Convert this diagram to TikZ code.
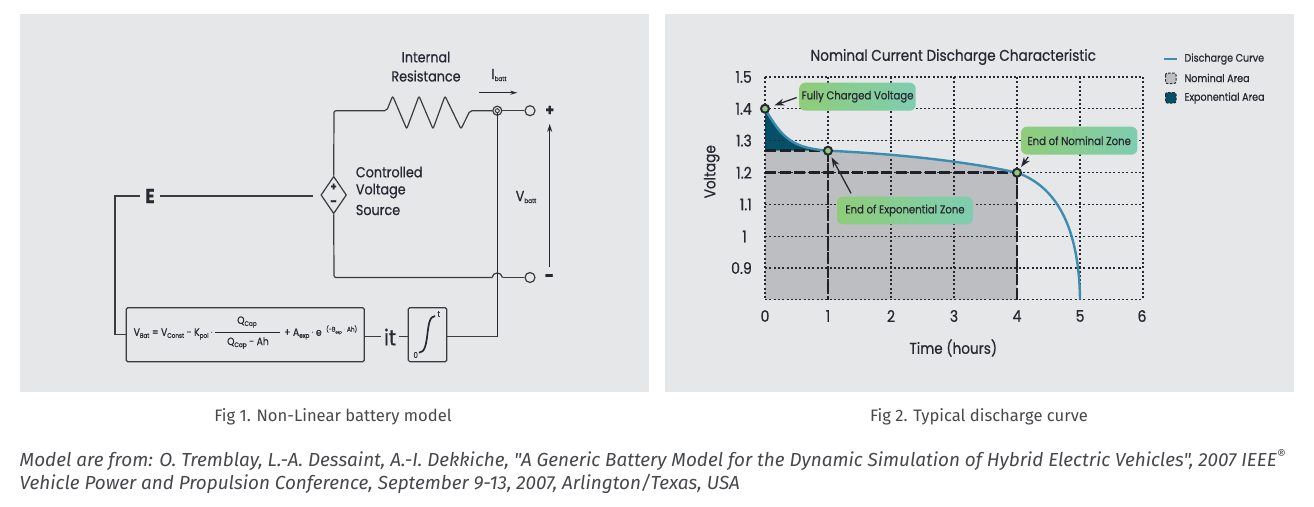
\documentclass[tikz,border=0pt]{standalone}
\usepackage{fontspec}
\usepackage{graphicx}
\setmainfont{Poppins}[FakeStretch=0.88,FakeBold=0.6]
\newfontfamily\capfont{Fira Sans}
\usetikzlibrary{shapes.geometric,arrows.meta}
\definecolor{panel}{RGB}{230,231,233}
\definecolor{ink}{RGB}{40,40,50}
\definecolor{wirec}{RGB}{60,60,62}
\definecolor{captionc}{RGB}{70,72,76}
\definecolor{nomarea}{RGB}{189,190,193}
\definecolor{exparea}{RGB}{4,80,104}
\definecolor{curvec}{RGB}{60,141,176}
\definecolor{lblleft}{RGB}{143,205,122}
\definecolor{lblright}{RGB}{126,205,176}
\definecolor{ptfill}{RGB}{140,205,125}
\newcommand{\fs}[1]{\fontsize{#1}{#1}\selectfont}
\newcommand{\lowidx}[1]{\raisebox{-2pt}{\fs{6.5}#1}}
\tikzset{
  wire/.style={line width=1.2pt,color=wirec},
  gridline/.style={line width=1.1pt,color=ink,dash pattern=on 2pt off 2.3pt},
  zoneline/.style={line width=2.6pt,color=ink!80!black,dash pattern=on 11pt off 3.5pt},
  callout/.style={rounded corners=6pt,left color=lblleft,right color=lblright,
    text=ink,inner sep=0pt,font=\fs{11.5}},
  ptmark/.style={circle,draw=ink,line width=2pt,fill=ptfill,minimum size=8pt,inner sep=0pt},
  terminal/.style={circle,draw=wirec,line width=1.2pt,fill=panel,minimum size=10pt,inner sep=0pt},
  pointer/.style={-{Stealth[length=10pt,width=7pt]},line width=1.3pt,color=ink},
  txt/.style={text=ink,inner sep=0pt},
  tlabel/.style={txt,font=\fs{14.5}},
  tick/.style={txt,font=\fs{16}},
  legendtxt/.style={txt,anchor=west,font=\fs{10.9}},
  capt/.style={text=captionc,inner sep=0pt,font=\capfont\fs{16.6}},
  bib/.style={text=captionc,inner sep=0pt,anchor=west,font=\capfont\itshape\fs{18.9}}
}
\begin{document}
\begin{tikzpicture}[x=1pt,y=-1pt]
\newcommand{\vgrid}[1]{\draw [gridline] (#1,77)--(#1,299.5);}
\newcommand{\hgrid}[1]{\draw [gridline] (765,#1)--(1143,#1);}
\fill [white] (0,0) rectangle (1314,506);
\useasboundingbox (0,0) rectangle (1314,506);
\fill [panel] (20,14) rectangle (649,392);
\fill [panel] (665,14) rectangle (1294,392);

% circuit
\node (vsrc) [diamond,draw=wirec,line width=1.2pt,minimum width=25.6pt,minimum height=37.4pt,inner sep=0pt] at (333.7,195) {};
\node (vsrcP) [txt,font=\bfseries\fs{11}] at (333.7,187) {+};
\node (vsrcM) [txt,font=\bfseries\fs{13}] at (333.7,203) {-};
\node (termP) [terminal] at (530,110.7) {};
\node (termM) [terminal] at (530,277.5) {};
\node (jct) [circle,draw=wirec,line width=1.2pt,minimum size=9pt,inner sep=0pt] at (497.3,110.7) {};
\node (jctIn) [circle,draw=wirec,line width=1pt,minimum size=4pt,inner sep=0pt] at (497.3,110.7) {};
\node (signP) [txt,font=\bfseries\fs{16}] at (549.7,110.7) {+};
\node (signM) [txt,font=\bfseries\fs{18}] at (549.5,278) {-};
\coordinate (cTL) at (334,110.7);
\coordinate (cBL) at (334,277.5);
\coordinate (resA) at (386.7,110.7);
\coordinate (resB) at (470,110.7);
\coordinate (hopA) at (492,277.5);
\coordinate (hopB) at (502.5,277.5);
\coordinate (cInt) at (497.3,336.7);

\draw [wire,rounded corners=2pt] (vsrc.north)--(cTL)--(resA)--(392.7,96)--(406.7,129)--(419,96)--(433,129)--(445,96)--(461,129)--(resB)--(jct);
\draw [wire] (jct)--(termP);
\draw [wire,rounded corners=2pt] (vsrc.south)--(cBL)--(hopA);
\draw [wire] (hopA) .. controls (493,271.5) and (501.5,271.5) .. (hopB);
\draw [wire] (hopB)--(termM);
\draw [line width=1.2pt,color=ink] (jctIn)--(cInt);

\node (lblInternal) [tlabel] at (426,57) {Internal};
\node (lblResist) [tlabel] at (426,76) {Resistance};
\node (lblI) [txt,font=\fs{14.5}] at (499,75) {I\lowidx{batt}};
\coordinate (iA) at (479,92.7);
\coordinate (iB) at (517.3,92.7);
\draw [-{Stealth[length=7pt,width=4pt]},line width=1pt,color=ink] (iA)--(iB);
\node (lblV) [txt,font=\fs{14.5}] at (526,197) {V\lowidx{batt}};
\coordinate (vA) at (549.7,267);
\coordinate (vB) at (549.7,124);
\draw [-{Stealth[length=8pt,width=5pt]},line width=1.1pt,color=ink] (vA)--(vB);
\node (lblCtrl) [tlabel,anchor=west] at (355.7,172) {Controlled};
\node (lblVolt) [tlabel,anchor=west] at (355.7,191) {Voltage};
\node (lblSrc) [tlabel,anchor=west] at (355.7,210) {Source};

% bottom row of the model
\node (sigE) [txt,inner sep=5pt,font=\bfseries\fs{20}] at (150,196) {E};
\node (formula) [draw=wirec,line width=1.2pt,rounded corners=1.5pt,minimum width=238pt,minimum height=54pt,inner sep=0pt] at (245.2,334.7) {};
\node (sigIt) [txt,inner sep=3pt,font=\fs{22}] at (390,337) {it};
\node (integ) [draw=wirec,line width=1.2pt,rounded corners=1.5pt,minimum width=38.4pt,minimum height=54pt,inner sep=0pt] at (427.5,334.7) {};
\node (intZero) [txt,font=\fs{8}] at (415.7,355) {0};
\node (intT) [txt,font=\fs{8}] at (438.7,314) {t};
\coordinate (eFree) at (313,196);
\coordinate (cE) at (115,196);
\coordinate (cF) at (115,334.3);
\draw [wire] (sigE)--(eFree);
\draw [wire] (sigE)--(cE)--(cF)--(formula.west |- cF);
\draw [wire] (formula.east |- cInt)--(sigIt.west |- cInt);
\draw [wire] (sigIt.east |- cInt)--(integ.west |- cInt);
\draw [wire] (integ.east |- cInt)--(cInt);
\draw [line width=1.7pt,color=ink] (419,352.7) .. controls (431,352.7) and (424,316) .. (435,316);

\node (fmA) [txt,anchor=west,font=\fs{10.5}] at (133.5,334) {V\lowidx{Bat} = V\lowidx{Const} - K\lowidx{pol}\,$\cdot$};
\node (fmTop) [txt,font=\fs{10.5}] at (247,322) {Q\lowidx{Cap}};
\coordinate (fracA) at (215,332.3);
\coordinate (fracB) at (280,332.3);
\draw [line width=.9pt,color=ink] (fracA)--(fracB);
\node (fmBot) [txt,font=\fs{10.5}] at (248,343) {Q\lowidx{Cap} - Ah};
\node (fmC) [txt,anchor=west,font=\fs{10.5}] at (284,334) {+ A\lowidx{exp}\,$\cdot$\,e};
\node (fmExp) [txt,anchor=west,font=\fs{6.5}] at (326,330) {(-B\lowidx{\fs{4}exp} $\cdot$ Ah)};

% chart
\fill [nomarea] (765,299.5)--(765,150.7)--(828,150.7) .. controls (900,154) and (970,162) .. (1017,172.7)--(1017,299.5)--cycle;
\fill [exparea] (765,108.7) .. controls (782,138) and (792,148) .. (828,150.7)--(765,150.7)--cycle;
\vgrid{765}\vgrid{828}\vgrid{891}\vgrid{954}\vgrid{1017}\vgrid{1080}\vgrid{1143}
\hgrid{77}\hgrid{108.8}\hgrid{140.6}\hgrid{172.7}\hgrid{204.5}\hgrid{236.5}\hgrid{268}\hgrid{299.5}
\draw [zoneline] (765,150.7)--(828,150.7);
\draw [zoneline] (828,150.7)--(828,299.5);
\draw [zoneline] (765,172.7)--(1017,172.7);
\draw [zoneline] (1017,172.7)--(1017,299.5);
\draw [line width=2.4pt,color=curvec] (765,108.7) .. controls (782,138) and (792,148) .. (828,150.7) .. controls (900,154) and (970,162) .. (1017,172.7) .. controls (1055,186) and (1079,225) .. (1080,299.5);

\node (ptFull) [ptmark] at (765,108.7) {};
\node (ptExp) [ptmark] at (828,150.7) {};
\node (ptNom) [ptmark] at (1017,172.7) {};
\node (lblFull) [callout,minimum width=116.4pt,minimum height=28pt] at (857.5,96.7) {Fully Charged Voltage};
\node (lblExp) [callout,minimum width=136pt,minimum height=27.6pt] at (905,210.5) {End of Exponential Zone};
\node (lblNom) [callout,minimum width=116.3pt,minimum height=28pt] at (1079.2,140.7) {End of Nominal Zone};
\draw [pointer,shorten <=2.5pt,shorten >=5pt] (lblFull.west)--(ptFull);
\draw [pointer,shorten <=3.5pt,shorten >=2.5pt] (lblExp.165.6)--(ptExp);
\draw [pointer,shorten <=2.5pt,shorten >=2pt] (lblNom.196.6)--(ptNom);

\node (chartTitle) [txt,font=\fs{15.5}] at (953.3,57) {Nominal Current Discharge Characteristic};
\node (axisY) [txt,font=\fs{15.5},rotate=90] at (711.7,171.7) {Voltage};
\node (axisX) [txt,font=\fs{15.5}] at (953.3,348) {Time (hours)};
\node (y15) [tick,anchor=east] at (752,77) {1.5};
\node (y14) [tick,anchor=east] at (752,108.8) {1.4};
\node (y13) [tick,anchor=east] at (752,140.6) {1.3};
\node (y12) [tick,anchor=east] at (752,172.7) {1.2};
\node (y11) [tick,anchor=east] at (752,204.5) {1.1};
\node (y10) [tick,anchor=east] at (747,236.5) {1};
\node (y09) [tick,anchor=east] at (752,268) {0.9};
\node (x0) [tick] at (765,316) {0};
\node (x1) [tick] at (828,316) {1};
\node (x2) [tick] at (891,316) {2};
\node (x3) [tick] at (954,316) {3};
\node (x4) [tick] at (1017,316) {4};
\node (x5) [tick] at (1080,316) {5};
\node (x6) [tick] at (1142,316) {6};

% legend
\coordinate (legA) at (1164.3,59);
\coordinate (legB) at (1176.7,59);
\draw [line width=2pt,color=curvec] (legA)--(legB);
\node (legCurve) [legendtxt] at (1184.3,59) {Discharge Curve};
\draw [fill=nomarea,draw=ink,line width=1pt,dash pattern=on 2.5pt off 1.5pt,rounded corners=2pt] (1165.5,73) rectangle (1176,83.5);
\node (legNom) [legendtxt] at (1184.3,78) {Nominal Area};
\draw [fill=exparea,draw=ink,line width=1pt,dash pattern=on 2.5pt off 1.5pt,rounded corners=2pt] (1165.5,92.5) rectangle (1176,103);
\node (legExp) [legendtxt] at (1184.3,98) {Exponential Area};

% captions
\node (capOne) [capt] at (333,417) {Fig 1. Non-Linear battery model};
\node (capTwo) [capt] at (979,417) {Fig 2. Typical discharge curve};
\node (bibOne) [bib] at (19.5,460) {Model are from: O. Tremblay, L.-A. Dessaint, A.-I. Dekkiche, "A Generic Battery Model for the Dynamic Simulation of Hybrid Electric Vehicles", 2007 IEEE\textsuperscript{®}};
\node (bibTwo) [bib] at (19.5,484) {Vehicle Power and Propulsion Conference, September 9-13, 2007, Arlington/Texas, USA};
\end{tikzpicture}
\end{document}
